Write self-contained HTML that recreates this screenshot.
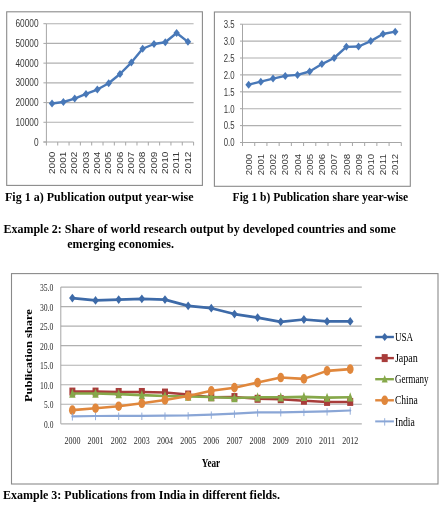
<!DOCTYPE html>
<html><head><meta charset="utf-8"><style>
html,body{margin:0;padding:0;background:#fff;width:448px;height:507px;overflow:hidden}
svg{position:absolute;left:0;top:0;filter:blur(0.3px)}
.t{position:absolute;font-family:"Liberation Serif",serif;font-weight:bold;font-size:12px;color:#000;white-space:pre;line-height:14px}
</style></head><body>
<svg width="448" height="507" viewBox="0 0 448 507">
<rect x="6.7" y="11.8" width="195.7" height="173.6" fill="none" stroke="#8a8a8a" stroke-width="1.1"/>
<line x1="43.4" y1="142" x2="46.4" y2="142" stroke="#a6a6a6" stroke-width="1"/>
<text x="38.6" y="145.5" font-family="Liberation Sans" font-size="10" font-weight="normal" fill="#383838" text-anchor="end" textLength="4.62" lengthAdjust="spacingAndGlyphs">0</text>
<line x1="46.4" y1="122.28" x2="193.6" y2="122.28" stroke="#b0b0b0" stroke-width="1.15"/>
<line x1="43.4" y1="122.28" x2="46.4" y2="122.28" stroke="#a6a6a6" stroke-width="1"/>
<text x="38.6" y="125.78" font-family="Liberation Sans" font-size="10" font-weight="normal" fill="#383838" text-anchor="end" textLength="23.1" lengthAdjust="spacingAndGlyphs">10000</text>
<line x1="46.4" y1="102.57" x2="193.6" y2="102.57" stroke="#b0b0b0" stroke-width="1.15"/>
<line x1="43.4" y1="102.57" x2="46.4" y2="102.57" stroke="#a6a6a6" stroke-width="1"/>
<text x="38.6" y="106.07" font-family="Liberation Sans" font-size="10" font-weight="normal" fill="#383838" text-anchor="end" textLength="23.1" lengthAdjust="spacingAndGlyphs">20000</text>
<line x1="46.4" y1="82.85" x2="193.6" y2="82.85" stroke="#b0b0b0" stroke-width="1.15"/>
<line x1="43.4" y1="82.85" x2="46.4" y2="82.85" stroke="#a6a6a6" stroke-width="1"/>
<text x="38.6" y="86.35" font-family="Liberation Sans" font-size="10" font-weight="normal" fill="#383838" text-anchor="end" textLength="23.1" lengthAdjust="spacingAndGlyphs">30000</text>
<line x1="46.4" y1="63.13" x2="193.6" y2="63.13" stroke="#b0b0b0" stroke-width="1.15"/>
<line x1="43.4" y1="63.13" x2="46.4" y2="63.13" stroke="#a6a6a6" stroke-width="1"/>
<text x="38.6" y="66.63" font-family="Liberation Sans" font-size="10" font-weight="normal" fill="#383838" text-anchor="end" textLength="23.1" lengthAdjust="spacingAndGlyphs">40000</text>
<line x1="46.4" y1="43.42" x2="193.6" y2="43.42" stroke="#b0b0b0" stroke-width="1.15"/>
<line x1="43.4" y1="43.42" x2="46.4" y2="43.42" stroke="#a6a6a6" stroke-width="1"/>
<text x="38.6" y="46.92" font-family="Liberation Sans" font-size="10" font-weight="normal" fill="#383838" text-anchor="end" textLength="23.1" lengthAdjust="spacingAndGlyphs">50000</text>
<line x1="46.4" y1="23.7" x2="193.6" y2="23.7" stroke="#b0b0b0" stroke-width="1.15"/>
<line x1="43.4" y1="23.7" x2="46.4" y2="23.7" stroke="#a6a6a6" stroke-width="1"/>
<text x="38.6" y="27.2" font-family="Liberation Sans" font-size="10" font-weight="normal" fill="#383838" text-anchor="end" textLength="23.1" lengthAdjust="spacingAndGlyphs">60000</text>
<line x1="46.4" y1="23.7" x2="46.4" y2="142" stroke="#a6a6a6" stroke-width="1"/>
<line x1="43.4" y1="142" x2="193.6" y2="142" stroke="#a6a6a6" stroke-width="1"/>
<line x1="46.4" y1="142" x2="46.4" y2="145.5" stroke="#a6a6a6" stroke-width="1"/>
<line x1="57.72" y1="142" x2="57.72" y2="145.5" stroke="#a6a6a6" stroke-width="1"/>
<line x1="69.05" y1="142" x2="69.05" y2="145.5" stroke="#a6a6a6" stroke-width="1"/>
<line x1="80.37" y1="142" x2="80.37" y2="145.5" stroke="#a6a6a6" stroke-width="1"/>
<line x1="91.69" y1="142" x2="91.69" y2="145.5" stroke="#a6a6a6" stroke-width="1"/>
<line x1="103.02" y1="142" x2="103.02" y2="145.5" stroke="#a6a6a6" stroke-width="1"/>
<line x1="114.34" y1="142" x2="114.34" y2="145.5" stroke="#a6a6a6" stroke-width="1"/>
<line x1="125.66" y1="142" x2="125.66" y2="145.5" stroke="#a6a6a6" stroke-width="1"/>
<line x1="136.98" y1="142" x2="136.98" y2="145.5" stroke="#a6a6a6" stroke-width="1"/>
<line x1="148.31" y1="142" x2="148.31" y2="145.5" stroke="#a6a6a6" stroke-width="1"/>
<line x1="159.63" y1="142" x2="159.63" y2="145.5" stroke="#a6a6a6" stroke-width="1"/>
<line x1="170.95" y1="142" x2="170.95" y2="145.5" stroke="#a6a6a6" stroke-width="1"/>
<line x1="182.28" y1="142" x2="182.28" y2="145.5" stroke="#a6a6a6" stroke-width="1"/>
<line x1="193.6" y1="142" x2="193.6" y2="145.5" stroke="#a6a6a6" stroke-width="1"/>
<text x="0" y="0" font-family="Liberation Sans" font-size="10" font-weight="normal" fill="#383838" text-anchor="start" textLength="22.3" lengthAdjust="spacingAndGlyphs" transform="translate(54.76 174) rotate(-90) scale(1 0.88)">2000</text>
<text x="0" y="0" font-family="Liberation Sans" font-size="10" font-weight="normal" fill="#383838" text-anchor="start" textLength="22.3" lengthAdjust="spacingAndGlyphs" transform="translate(66.08 174) rotate(-90) scale(1 0.88)">2001</text>
<text x="0" y="0" font-family="Liberation Sans" font-size="10" font-weight="normal" fill="#383838" text-anchor="start" textLength="22.3" lengthAdjust="spacingAndGlyphs" transform="translate(77.41 174) rotate(-90) scale(1 0.88)">2002</text>
<text x="0" y="0" font-family="Liberation Sans" font-size="10" font-weight="normal" fill="#383838" text-anchor="start" textLength="22.3" lengthAdjust="spacingAndGlyphs" transform="translate(88.73 174) rotate(-90) scale(1 0.88)">2003</text>
<text x="0" y="0" font-family="Liberation Sans" font-size="10" font-weight="normal" fill="#383838" text-anchor="start" textLength="22.3" lengthAdjust="spacingAndGlyphs" transform="translate(100.05 174) rotate(-90) scale(1 0.88)">2004</text>
<text x="0" y="0" font-family="Liberation Sans" font-size="10" font-weight="normal" fill="#383838" text-anchor="start" textLength="22.3" lengthAdjust="spacingAndGlyphs" transform="translate(111.38 174) rotate(-90) scale(1 0.88)">2005</text>
<text x="0" y="0" font-family="Liberation Sans" font-size="10" font-weight="normal" fill="#383838" text-anchor="start" textLength="22.3" lengthAdjust="spacingAndGlyphs" transform="translate(122.7 174) rotate(-90) scale(1 0.88)">2006</text>
<text x="0" y="0" font-family="Liberation Sans" font-size="10" font-weight="normal" fill="#383838" text-anchor="start" textLength="22.3" lengthAdjust="spacingAndGlyphs" transform="translate(134.02 174) rotate(-90) scale(1 0.88)">2007</text>
<text x="0" y="0" font-family="Liberation Sans" font-size="10" font-weight="normal" fill="#383838" text-anchor="start" textLength="22.3" lengthAdjust="spacingAndGlyphs" transform="translate(145.35 174) rotate(-90) scale(1 0.88)">2008</text>
<text x="0" y="0" font-family="Liberation Sans" font-size="10" font-weight="normal" fill="#383838" text-anchor="start" textLength="22.3" lengthAdjust="spacingAndGlyphs" transform="translate(156.67 174) rotate(-90) scale(1 0.88)">2009</text>
<text x="0" y="0" font-family="Liberation Sans" font-size="10" font-weight="normal" fill="#383838" text-anchor="start" textLength="22.3" lengthAdjust="spacingAndGlyphs" transform="translate(167.99 174) rotate(-90) scale(1 0.88)">2010</text>
<text x="0" y="0" font-family="Liberation Sans" font-size="10" font-weight="normal" fill="#383838" text-anchor="start" textLength="22.3" lengthAdjust="spacingAndGlyphs" transform="translate(179.32 174) rotate(-90) scale(1 0.88)">2011</text>
<text x="0" y="0" font-family="Liberation Sans" font-size="10" font-weight="normal" fill="#383838" text-anchor="start" textLength="22.3" lengthAdjust="spacingAndGlyphs" transform="translate(190.64 174) rotate(-90) scale(1 0.88)">2012</text>
<polyline points="52.06,103.55 63.38,101.98 74.71,98.62 86.03,93.89 97.35,89.55 108.68,83.24 120,73.98 131.32,62.54 142.65,48.74 153.97,44.01 165.29,42.23 176.62,32.97 187.94,41.84" fill="none" stroke="#4878b8" stroke-width="2.4" stroke-linejoin="round" stroke-linecap="round"/>
<path d="M52.06 99.55L55.31 103.55L52.06 107.55L48.81 103.55Z" fill="#4878b8"/>
<path d="M63.38 97.98L66.63 101.98L63.38 105.98L60.13 101.98Z" fill="#4878b8"/>
<path d="M74.71 94.62L77.96 98.62L74.71 102.62L71.46 98.62Z" fill="#4878b8"/>
<path d="M86.03 89.89L89.28 93.89L86.03 97.89L82.78 93.89Z" fill="#4878b8"/>
<path d="M97.35 85.55L100.6 89.55L97.35 93.55L94.1 89.55Z" fill="#4878b8"/>
<path d="M108.68 79.24L111.93 83.24L108.68 87.24L105.43 83.24Z" fill="#4878b8"/>
<path d="M120 69.98L123.25 73.98L120 77.98L116.75 73.98Z" fill="#4878b8"/>
<path d="M131.32 58.54L134.57 62.54L131.32 66.54L128.07 62.54Z" fill="#4878b8"/>
<path d="M142.65 44.74L145.9 48.74L142.65 52.74L139.4 48.74Z" fill="#4878b8"/>
<path d="M153.97 40.01L157.22 44.01L153.97 48.01L150.72 44.01Z" fill="#4878b8"/>
<path d="M165.29 38.23L168.54 42.23L165.29 46.23L162.04 42.23Z" fill="#4878b8"/>
<path d="M176.62 28.97L179.87 32.97L176.62 36.97L173.37 32.97Z" fill="#4878b8"/>
<path d="M187.94 37.84L191.19 41.84L187.94 45.84L184.69 41.84Z" fill="#4878b8"/>
<rect x="214.4" y="12" width="195.9" height="174.3" fill="none" stroke="#8a8a8a" stroke-width="1.1"/>
<line x1="240" y1="142.5" x2="242.5" y2="142.5" stroke="#a6a6a6" stroke-width="1"/>
<text x="234.5" y="146.3" font-family="Liberation Sans" font-size="10" font-weight="normal" fill="#383838" text-anchor="end" textLength="10.8" lengthAdjust="spacingAndGlyphs">0.0</text>
<line x1="242.5" y1="125.6" x2="401.3" y2="125.6" stroke="#b0b0b0" stroke-width="1.15"/>
<line x1="240" y1="125.6" x2="242.5" y2="125.6" stroke="#a6a6a6" stroke-width="1"/>
<text x="234.5" y="129.4" font-family="Liberation Sans" font-size="10" font-weight="normal" fill="#383838" text-anchor="end" textLength="10.8" lengthAdjust="spacingAndGlyphs">0.5</text>
<line x1="242.5" y1="108.7" x2="401.3" y2="108.7" stroke="#b0b0b0" stroke-width="1.15"/>
<line x1="240" y1="108.7" x2="242.5" y2="108.7" stroke="#a6a6a6" stroke-width="1"/>
<text x="234.5" y="112.5" font-family="Liberation Sans" font-size="10" font-weight="normal" fill="#383838" text-anchor="end" textLength="10.8" lengthAdjust="spacingAndGlyphs">1.0</text>
<line x1="242.5" y1="91.8" x2="401.3" y2="91.8" stroke="#b0b0b0" stroke-width="1.15"/>
<line x1="240" y1="91.8" x2="242.5" y2="91.8" stroke="#a6a6a6" stroke-width="1"/>
<text x="234.5" y="95.6" font-family="Liberation Sans" font-size="10" font-weight="normal" fill="#383838" text-anchor="end" textLength="10.8" lengthAdjust="spacingAndGlyphs">1.5</text>
<line x1="242.5" y1="74.9" x2="401.3" y2="74.9" stroke="#b0b0b0" stroke-width="1.15"/>
<line x1="240" y1="74.9" x2="242.5" y2="74.9" stroke="#a6a6a6" stroke-width="1"/>
<text x="234.5" y="78.7" font-family="Liberation Sans" font-size="10" font-weight="normal" fill="#383838" text-anchor="end" textLength="10.8" lengthAdjust="spacingAndGlyphs">2.0</text>
<line x1="242.5" y1="58" x2="401.3" y2="58" stroke="#b0b0b0" stroke-width="1.15"/>
<line x1="240" y1="58" x2="242.5" y2="58" stroke="#a6a6a6" stroke-width="1"/>
<text x="234.5" y="61.8" font-family="Liberation Sans" font-size="10" font-weight="normal" fill="#383838" text-anchor="end" textLength="10.8" lengthAdjust="spacingAndGlyphs">2.5</text>
<line x1="242.5" y1="41.1" x2="401.3" y2="41.1" stroke="#b0b0b0" stroke-width="1.15"/>
<line x1="240" y1="41.1" x2="242.5" y2="41.1" stroke="#a6a6a6" stroke-width="1"/>
<text x="234.5" y="44.9" font-family="Liberation Sans" font-size="10" font-weight="normal" fill="#383838" text-anchor="end" textLength="10.8" lengthAdjust="spacingAndGlyphs">3.0</text>
<line x1="242.5" y1="24.2" x2="401.3" y2="24.2" stroke="#b0b0b0" stroke-width="1.15"/>
<line x1="240" y1="24.2" x2="242.5" y2="24.2" stroke="#a6a6a6" stroke-width="1"/>
<text x="234.5" y="28" font-family="Liberation Sans" font-size="10" font-weight="normal" fill="#383838" text-anchor="end" textLength="10.8" lengthAdjust="spacingAndGlyphs">3.5</text>
<line x1="242.5" y1="24.2" x2="242.5" y2="142.5" stroke="#a6a6a6" stroke-width="1"/>
<line x1="240" y1="142.5" x2="401.3" y2="142.5" stroke="#a6a6a6" stroke-width="1"/>
<line x1="242.5" y1="142.5" x2="242.5" y2="146" stroke="#a6a6a6" stroke-width="1"/>
<line x1="254.72" y1="142.5" x2="254.72" y2="146" stroke="#a6a6a6" stroke-width="1"/>
<line x1="266.93" y1="142.5" x2="266.93" y2="146" stroke="#a6a6a6" stroke-width="1"/>
<line x1="279.15" y1="142.5" x2="279.15" y2="146" stroke="#a6a6a6" stroke-width="1"/>
<line x1="291.36" y1="142.5" x2="291.36" y2="146" stroke="#a6a6a6" stroke-width="1"/>
<line x1="303.58" y1="142.5" x2="303.58" y2="146" stroke="#a6a6a6" stroke-width="1"/>
<line x1="315.79" y1="142.5" x2="315.79" y2="146" stroke="#a6a6a6" stroke-width="1"/>
<line x1="328.01" y1="142.5" x2="328.01" y2="146" stroke="#a6a6a6" stroke-width="1"/>
<line x1="340.22" y1="142.5" x2="340.22" y2="146" stroke="#a6a6a6" stroke-width="1"/>
<line x1="352.44" y1="142.5" x2="352.44" y2="146" stroke="#a6a6a6" stroke-width="1"/>
<line x1="364.65" y1="142.5" x2="364.65" y2="146" stroke="#a6a6a6" stroke-width="1"/>
<line x1="376.87" y1="142.5" x2="376.87" y2="146" stroke="#a6a6a6" stroke-width="1"/>
<line x1="389.08" y1="142.5" x2="389.08" y2="146" stroke="#a6a6a6" stroke-width="1"/>
<line x1="401.3" y1="142.5" x2="401.3" y2="146" stroke="#a6a6a6" stroke-width="1"/>
<text x="0" y="0" font-family="Liberation Sans" font-size="9.6" font-weight="normal" fill="#383838" text-anchor="start" textLength="21.3" lengthAdjust="spacingAndGlyphs" transform="translate(251.81 175.2) rotate(-90) scale(1 0.9)">2000</text>
<text x="0" y="0" font-family="Liberation Sans" font-size="9.6" font-weight="normal" fill="#383838" text-anchor="start" textLength="21.3" lengthAdjust="spacingAndGlyphs" transform="translate(264.02 175.2) rotate(-90) scale(1 0.9)">2001</text>
<text x="0" y="0" font-family="Liberation Sans" font-size="9.6" font-weight="normal" fill="#383838" text-anchor="start" textLength="21.3" lengthAdjust="spacingAndGlyphs" transform="translate(276.24 175.2) rotate(-90) scale(1 0.9)">2002</text>
<text x="0" y="0" font-family="Liberation Sans" font-size="9.6" font-weight="normal" fill="#383838" text-anchor="start" textLength="21.3" lengthAdjust="spacingAndGlyphs" transform="translate(288.45 175.2) rotate(-90) scale(1 0.9)">2003</text>
<text x="0" y="0" font-family="Liberation Sans" font-size="9.6" font-weight="normal" fill="#383838" text-anchor="start" textLength="21.3" lengthAdjust="spacingAndGlyphs" transform="translate(300.67 175.2) rotate(-90) scale(1 0.9)">2004</text>
<text x="0" y="0" font-family="Liberation Sans" font-size="9.6" font-weight="normal" fill="#383838" text-anchor="start" textLength="21.3" lengthAdjust="spacingAndGlyphs" transform="translate(312.88 175.2) rotate(-90) scale(1 0.9)">2005</text>
<text x="0" y="0" font-family="Liberation Sans" font-size="9.6" font-weight="normal" fill="#383838" text-anchor="start" textLength="21.3" lengthAdjust="spacingAndGlyphs" transform="translate(325.1 175.2) rotate(-90) scale(1 0.9)">2006</text>
<text x="0" y="0" font-family="Liberation Sans" font-size="9.6" font-weight="normal" fill="#383838" text-anchor="start" textLength="21.3" lengthAdjust="spacingAndGlyphs" transform="translate(337.32 175.2) rotate(-90) scale(1 0.9)">2007</text>
<text x="0" y="0" font-family="Liberation Sans" font-size="9.6" font-weight="normal" fill="#383838" text-anchor="start" textLength="21.3" lengthAdjust="spacingAndGlyphs" transform="translate(349.53 175.2) rotate(-90) scale(1 0.9)">2008</text>
<text x="0" y="0" font-family="Liberation Sans" font-size="9.6" font-weight="normal" fill="#383838" text-anchor="start" textLength="21.3" lengthAdjust="spacingAndGlyphs" transform="translate(361.75 175.2) rotate(-90) scale(1 0.9)">2009</text>
<text x="0" y="0" font-family="Liberation Sans" font-size="9.6" font-weight="normal" fill="#383838" text-anchor="start" textLength="21.3" lengthAdjust="spacingAndGlyphs" transform="translate(373.96 175.2) rotate(-90) scale(1 0.9)">2010</text>
<text x="0" y="0" font-family="Liberation Sans" font-size="9.6" font-weight="normal" fill="#383838" text-anchor="start" textLength="21.3" lengthAdjust="spacingAndGlyphs" transform="translate(386.18 175.2) rotate(-90) scale(1 0.9)">2011</text>
<text x="0" y="0" font-family="Liberation Sans" font-size="9.6" font-weight="normal" fill="#383838" text-anchor="start" textLength="21.3" lengthAdjust="spacingAndGlyphs" transform="translate(398.39 175.2) rotate(-90) scale(1 0.9)">2012</text>
<polyline points="248.61,84.7 260.82,81.66 273.04,78.62 285.25,75.91 297.47,74.9 309.68,71.52 321.9,64.08 334.12,58 346.33,46.85 358.55,46.51 370.76,41.1 382.98,34 395.19,31.64" fill="none" stroke="#4878b8" stroke-width="2.4" stroke-linejoin="round" stroke-linecap="round"/>
<path d="M248.61 80.7L251.86 84.7L248.61 88.7L245.36 84.7Z" fill="#4878b8"/>
<path d="M260.82 77.66L264.07 81.66L260.82 85.66L257.57 81.66Z" fill="#4878b8"/>
<path d="M273.04 74.62L276.29 78.62L273.04 82.62L269.79 78.62Z" fill="#4878b8"/>
<path d="M285.25 71.91L288.5 75.91L285.25 79.91L282 75.91Z" fill="#4878b8"/>
<path d="M297.47 70.9L300.72 74.9L297.47 78.9L294.22 74.9Z" fill="#4878b8"/>
<path d="M309.68 67.52L312.93 71.52L309.68 75.52L306.43 71.52Z" fill="#4878b8"/>
<path d="M321.9 60.08L325.15 64.08L321.9 68.08L318.65 64.08Z" fill="#4878b8"/>
<path d="M334.12 54L337.37 58L334.12 62L330.87 58Z" fill="#4878b8"/>
<path d="M346.33 42.85L349.58 46.85L346.33 50.85L343.08 46.85Z" fill="#4878b8"/>
<path d="M358.55 42.51L361.8 46.51L358.55 50.51L355.3 46.51Z" fill="#4878b8"/>
<path d="M370.76 37.1L374.01 41.1L370.76 45.1L367.51 41.1Z" fill="#4878b8"/>
<path d="M382.98 30L386.23 34L382.98 38L379.73 34Z" fill="#4878b8"/>
<path d="M395.19 27.64L398.44 31.64L395.19 35.64L391.94 31.64Z" fill="#4878b8"/>
<rect x="11.5" y="273.6" width="426.5" height="210.4" fill="none" stroke="#8a8a8a" stroke-width="1.1"/>
<line x1="60.8" y1="423.8" x2="361.8" y2="423.8" stroke="#b0b0b0" stroke-width="1.15"/>
<text x="53.4" y="428" font-family="Liberation Serif" font-size="9.8" font-weight="normal" fill="#2a2a2a" text-anchor="end" textLength="9.3" lengthAdjust="spacingAndGlyphs">0.0</text>
<line x1="60.8" y1="404.27" x2="361.8" y2="404.27" stroke="#b0b0b0" stroke-width="1.15"/>
<text x="53.4" y="408.47" font-family="Liberation Serif" font-size="9.8" font-weight="normal" fill="#2a2a2a" text-anchor="end" textLength="9.3" lengthAdjust="spacingAndGlyphs">5.0</text>
<line x1="60.8" y1="384.74" x2="361.8" y2="384.74" stroke="#b0b0b0" stroke-width="1.15"/>
<text x="53.4" y="388.94" font-family="Liberation Serif" font-size="9.8" font-weight="normal" fill="#2a2a2a" text-anchor="end" textLength="13.5" lengthAdjust="spacingAndGlyphs">10.0</text>
<line x1="60.8" y1="365.21" x2="361.8" y2="365.21" stroke="#b0b0b0" stroke-width="1.15"/>
<text x="53.4" y="369.41" font-family="Liberation Serif" font-size="9.8" font-weight="normal" fill="#2a2a2a" text-anchor="end" textLength="13.5" lengthAdjust="spacingAndGlyphs">15.0</text>
<line x1="60.8" y1="345.69" x2="361.8" y2="345.69" stroke="#b0b0b0" stroke-width="1.15"/>
<text x="53.4" y="349.89" font-family="Liberation Serif" font-size="9.8" font-weight="normal" fill="#2a2a2a" text-anchor="end" textLength="13.5" lengthAdjust="spacingAndGlyphs">20.0</text>
<line x1="60.8" y1="326.16" x2="361.8" y2="326.16" stroke="#b0b0b0" stroke-width="1.15"/>
<text x="53.4" y="330.36" font-family="Liberation Serif" font-size="9.8" font-weight="normal" fill="#2a2a2a" text-anchor="end" textLength="13.5" lengthAdjust="spacingAndGlyphs">25.0</text>
<line x1="60.8" y1="306.63" x2="361.8" y2="306.63" stroke="#b0b0b0" stroke-width="1.15"/>
<text x="53.4" y="310.83" font-family="Liberation Serif" font-size="9.8" font-weight="normal" fill="#2a2a2a" text-anchor="end" textLength="13.5" lengthAdjust="spacingAndGlyphs">30.0</text>
<line x1="60.8" y1="287.1" x2="361.8" y2="287.1" stroke="#b0b0b0" stroke-width="1.15"/>
<text x="53.4" y="291.3" font-family="Liberation Serif" font-size="9.8" font-weight="normal" fill="#2a2a2a" text-anchor="end" textLength="13.5" lengthAdjust="spacingAndGlyphs">35.0</text>
<line x1="60.8" y1="287.1" x2="60.8" y2="423.8" stroke="#a6a6a6" stroke-width="1"/>
<text x="72.38" y="443.6" font-family="Liberation Serif" font-size="9.5" font-weight="normal" fill="#2a2a2a" text-anchor="middle" textLength="16" lengthAdjust="spacingAndGlyphs">2000</text>
<text x="95.53" y="443.6" font-family="Liberation Serif" font-size="9.5" font-weight="normal" fill="#2a2a2a" text-anchor="middle" textLength="16" lengthAdjust="spacingAndGlyphs">2001</text>
<text x="118.68" y="443.6" font-family="Liberation Serif" font-size="9.5" font-weight="normal" fill="#2a2a2a" text-anchor="middle" textLength="16" lengthAdjust="spacingAndGlyphs">2002</text>
<text x="141.84" y="443.6" font-family="Liberation Serif" font-size="9.5" font-weight="normal" fill="#2a2a2a" text-anchor="middle" textLength="16" lengthAdjust="spacingAndGlyphs">2003</text>
<text x="164.99" y="443.6" font-family="Liberation Serif" font-size="9.5" font-weight="normal" fill="#2a2a2a" text-anchor="middle" textLength="16" lengthAdjust="spacingAndGlyphs">2004</text>
<text x="188.15" y="443.6" font-family="Liberation Serif" font-size="9.5" font-weight="normal" fill="#2a2a2a" text-anchor="middle" textLength="16" lengthAdjust="spacingAndGlyphs">2005</text>
<text x="211.3" y="443.6" font-family="Liberation Serif" font-size="9.5" font-weight="normal" fill="#2a2a2a" text-anchor="middle" textLength="16" lengthAdjust="spacingAndGlyphs">2006</text>
<text x="234.45" y="443.6" font-family="Liberation Serif" font-size="9.5" font-weight="normal" fill="#2a2a2a" text-anchor="middle" textLength="16" lengthAdjust="spacingAndGlyphs">2007</text>
<text x="257.61" y="443.6" font-family="Liberation Serif" font-size="9.5" font-weight="normal" fill="#2a2a2a" text-anchor="middle" textLength="16" lengthAdjust="spacingAndGlyphs">2008</text>
<text x="280.76" y="443.6" font-family="Liberation Serif" font-size="9.5" font-weight="normal" fill="#2a2a2a" text-anchor="middle" textLength="16" lengthAdjust="spacingAndGlyphs">2009</text>
<text x="303.92" y="443.6" font-family="Liberation Serif" font-size="9.5" font-weight="normal" fill="#2a2a2a" text-anchor="middle" textLength="16" lengthAdjust="spacingAndGlyphs">2010</text>
<text x="327.07" y="443.6" font-family="Liberation Serif" font-size="9.5" font-weight="normal" fill="#2a2a2a" text-anchor="middle" textLength="16" lengthAdjust="spacingAndGlyphs">2011</text>
<text x="350.22" y="443.6" font-family="Liberation Serif" font-size="9.5" font-weight="normal" fill="#2a2a2a" text-anchor="middle" textLength="16" lengthAdjust="spacingAndGlyphs">2012</text>
<text x="211" y="466.8" font-family="Liberation Serif" font-size="12" font-weight="bold" fill="#000" text-anchor="middle" textLength="18.4" lengthAdjust="spacingAndGlyphs">Year</text>
<text x="0" y="0" font-family="Liberation Serif" font-size="12.5" font-weight="bold" fill="#000" text-anchor="middle" textLength="93" lengthAdjust="spacingAndGlyphs" transform="translate(32.3 355.6) rotate(-90) scale(1 0.76)">Publication share</text>
<polyline points="72.38,298.04 95.53,300.38 118.68,299.6 141.84,298.82 164.99,299.6 188.15,305.85 211.3,308.19 234.45,314.05 257.61,317.56 280.76,321.86 303.92,319.52 327.07,321.47 350.22,321.47" fill="none" stroke="#3d6aa8" stroke-width="2.7" stroke-linejoin="round" stroke-linecap="round"/>
<path d="M72.38 293.64L75.68 298.04L72.38 302.44L69.08 298.04Z" fill="#3d6aa8"/>
<path d="M95.53 295.98L98.83 300.38L95.53 304.78L92.23 300.38Z" fill="#3d6aa8"/>
<path d="M118.68 295.2L121.98 299.6L118.68 304L115.38 299.6Z" fill="#3d6aa8"/>
<path d="M141.84 294.42L145.14 298.82L141.84 303.22L138.54 298.82Z" fill="#3d6aa8"/>
<path d="M164.99 295.2L168.29 299.6L164.99 304L161.69 299.6Z" fill="#3d6aa8"/>
<path d="M188.15 301.45L191.45 305.85L188.15 310.25L184.85 305.85Z" fill="#3d6aa8"/>
<path d="M211.3 303.79L214.6 308.19L211.3 312.59L208 308.19Z" fill="#3d6aa8"/>
<path d="M234.45 309.65L237.75 314.05L234.45 318.45L231.15 314.05Z" fill="#3d6aa8"/>
<path d="M257.61 313.16L260.91 317.56L257.61 321.96L254.31 317.56Z" fill="#3d6aa8"/>
<path d="M280.76 317.46L284.06 321.86L280.76 326.26L277.46 321.86Z" fill="#3d6aa8"/>
<path d="M303.92 315.12L307.22 319.52L303.92 323.92L300.62 319.52Z" fill="#3d6aa8"/>
<path d="M327.07 317.07L330.37 321.47L327.07 325.87L323.77 321.47Z" fill="#3d6aa8"/>
<path d="M350.22 317.07L353.52 321.47L350.22 325.87L346.92 321.47Z" fill="#3d6aa8"/>
<polyline points="72.38,391.58 95.53,391.58 118.68,391.97 141.84,391.97 164.99,392.55 188.15,394.51 211.3,397.24 234.45,397.05 257.61,398.8 280.76,399.19 303.92,400.76 327.07,401.93 350.22,401.93" fill="none" stroke="#a83c3a" stroke-width="2.6" stroke-linejoin="round" stroke-linecap="round"/>
<rect x="69.38" y="387.58" width="6" height="8" fill="#a83c3a"/>
<rect x="92.53" y="387.58" width="6" height="8" fill="#a83c3a"/>
<rect x="115.68" y="387.97" width="6" height="8" fill="#a83c3a"/>
<rect x="138.84" y="387.97" width="6" height="8" fill="#a83c3a"/>
<rect x="161.99" y="388.55" width="6" height="8" fill="#a83c3a"/>
<rect x="185.15" y="390.51" width="6" height="8" fill="#a83c3a"/>
<rect x="208.3" y="393.24" width="6" height="8" fill="#a83c3a"/>
<rect x="231.45" y="393.05" width="6" height="8" fill="#a83c3a"/>
<rect x="254.61" y="394.8" width="6" height="8" fill="#a83c3a"/>
<rect x="277.76" y="395.19" width="6" height="8" fill="#a83c3a"/>
<rect x="300.92" y="396.76" width="6" height="8" fill="#a83c3a"/>
<rect x="324.07" y="397.93" width="6" height="8" fill="#a83c3a"/>
<rect x="347.22" y="397.93" width="6" height="8" fill="#a83c3a"/>
<polyline points="72.38,393.53 95.53,393.53 118.68,394.12 141.84,395.09 164.99,396.07 188.15,396.46 211.3,397.05 234.45,398.02 257.61,397.24 280.76,397.24 303.92,396.85 327.07,397.63 350.22,397.24" fill="none" stroke="#86a84a" stroke-width="2.6" stroke-linejoin="round" stroke-linecap="round"/>
<path d="M72.38 388.53L75.58 397.73L69.18 397.73Z" fill="#86a84a"/>
<path d="M95.53 388.53L98.73 397.73L92.33 397.73Z" fill="#86a84a"/>
<path d="M118.68 389.12L121.88 398.32L115.48 398.32Z" fill="#86a84a"/>
<path d="M141.84 390.09L145.04 399.29L138.64 399.29Z" fill="#86a84a"/>
<path d="M164.99 391.07L168.19 400.27L161.79 400.27Z" fill="#86a84a"/>
<path d="M188.15 391.46L191.35 400.66L184.95 400.66Z" fill="#86a84a"/>
<path d="M211.3 392.05L214.5 401.25L208.1 401.25Z" fill="#86a84a"/>
<path d="M234.45 393.02L237.65 402.22L231.25 402.22Z" fill="#86a84a"/>
<path d="M257.61 392.24L260.81 401.44L254.41 401.44Z" fill="#86a84a"/>
<path d="M280.76 392.24L283.96 401.44L277.56 401.44Z" fill="#86a84a"/>
<path d="M303.92 391.85L307.12 401.05L300.72 401.05Z" fill="#86a84a"/>
<path d="M327.07 392.63L330.27 401.83L323.87 401.83Z" fill="#86a84a"/>
<path d="M350.22 392.24L353.42 401.44L347.02 401.44Z" fill="#86a84a"/>
<polyline points="72.38,410.13 95.53,408.18 118.68,406.22 141.84,403.3 164.99,399.98 188.15,396.07 211.3,390.8 234.45,387.67 257.61,382.59 280.76,377.52 303.92,378.88 327.07,370.88 350.22,369.12" fill="none" stroke="#e0873c" stroke-width="2.6" stroke-linejoin="round" stroke-linecap="round"/>
<ellipse cx="72.38" cy="410.13" rx="3.4" ry="4.8" fill="#e0873c"/>
<ellipse cx="95.53" cy="408.18" rx="3.4" ry="4.8" fill="#e0873c"/>
<ellipse cx="118.68" cy="406.22" rx="3.4" ry="4.8" fill="#e0873c"/>
<ellipse cx="141.84" cy="403.3" rx="3.4" ry="4.8" fill="#e0873c"/>
<ellipse cx="164.99" cy="399.98" rx="3.4" ry="4.8" fill="#e0873c"/>
<ellipse cx="188.15" cy="396.07" rx="3.4" ry="4.8" fill="#e0873c"/>
<ellipse cx="211.3" cy="390.8" rx="3.4" ry="4.8" fill="#e0873c"/>
<ellipse cx="234.45" cy="387.67" rx="3.4" ry="4.8" fill="#e0873c"/>
<ellipse cx="257.61" cy="382.59" rx="3.4" ry="4.8" fill="#e0873c"/>
<ellipse cx="280.76" cy="377.52" rx="3.4" ry="4.8" fill="#e0873c"/>
<ellipse cx="303.92" cy="378.88" rx="3.4" ry="4.8" fill="#e0873c"/>
<ellipse cx="327.07" cy="370.88" rx="3.4" ry="4.8" fill="#e0873c"/>
<ellipse cx="350.22" cy="369.12" rx="3.4" ry="4.8" fill="#e0873c"/>
<polyline points="72.38,416.38 95.53,415.99 118.68,415.79 141.84,415.79 164.99,415.6 188.15,415.4 211.3,414.62 234.45,413.65 257.61,412.47 280.76,412.28 303.92,411.89 327.07,411.3 350.22,410.52" fill="none" stroke="#8aa6d6" stroke-width="2.2" stroke-linejoin="round" stroke-linecap="round"/>
<line x1="72.38" y1="413.18" x2="72.38" y2="420.58" stroke="#8aa6d6" stroke-width="0.9"/>
<line x1="95.53" y1="412.79" x2="95.53" y2="420.19" stroke="#8aa6d6" stroke-width="0.9"/>
<line x1="118.68" y1="412.59" x2="118.68" y2="419.99" stroke="#8aa6d6" stroke-width="0.9"/>
<line x1="141.84" y1="412.59" x2="141.84" y2="419.99" stroke="#8aa6d6" stroke-width="0.9"/>
<line x1="164.99" y1="412.4" x2="164.99" y2="419.8" stroke="#8aa6d6" stroke-width="0.9"/>
<line x1="188.15" y1="412.2" x2="188.15" y2="419.6" stroke="#8aa6d6" stroke-width="0.9"/>
<line x1="211.3" y1="411.42" x2="211.3" y2="418.82" stroke="#8aa6d6" stroke-width="0.9"/>
<line x1="234.45" y1="410.45" x2="234.45" y2="417.85" stroke="#8aa6d6" stroke-width="0.9"/>
<line x1="257.61" y1="409.27" x2="257.61" y2="416.67" stroke="#8aa6d6" stroke-width="0.9"/>
<line x1="280.76" y1="409.08" x2="280.76" y2="416.48" stroke="#8aa6d6" stroke-width="0.9"/>
<line x1="303.92" y1="408.69" x2="303.92" y2="416.09" stroke="#8aa6d6" stroke-width="0.9"/>
<line x1="327.07" y1="408.1" x2="327.07" y2="415.5" stroke="#8aa6d6" stroke-width="0.9"/>
<line x1="350.22" y1="407.32" x2="350.22" y2="414.72" stroke="#8aa6d6" stroke-width="0.9"/>
<line x1="375.2" y1="337" x2="393.9" y2="337" stroke="#3d6aa8" stroke-width="2.4"/>
<path d="M384.7 333.1L387.9 337L384.7 340.9L381.5 337Z" fill="#3d6aa8"/>
<text x="394.9" y="341.1" font-family="Liberation Serif" font-size="11.5" font-weight="normal" fill="#000" text-anchor="start" textLength="18.2" lengthAdjust="spacingAndGlyphs">USA</text>
<line x1="375.2" y1="358.1" x2="393.9" y2="358.1" stroke="#a83c3a" stroke-width="2.4"/>
<rect x="381.7" y="354.1" width="6" height="8" fill="#a83c3a"/>
<text x="394.9" y="362.2" font-family="Liberation Serif" font-size="11.5" font-weight="normal" fill="#000" text-anchor="start" textLength="23" lengthAdjust="spacingAndGlyphs">Japan</text>
<line x1="375.2" y1="379.2" x2="393.9" y2="379.2" stroke="#86a84a" stroke-width="2.4"/>
<path d="M384.7 375L387.7 382.6L381.7 382.6Z" fill="#86a84a"/>
<text x="394.9" y="383.3" font-family="Liberation Serif" font-size="11.5" font-weight="normal" fill="#000" text-anchor="start" textLength="33.5" lengthAdjust="spacingAndGlyphs">Germany</text>
<line x1="375.2" y1="400.3" x2="393.9" y2="400.3" stroke="#e0873c" stroke-width="2.4"/>
<ellipse cx="384.7" cy="400.3" rx="3.4" ry="4.8" fill="#e0873c"/>
<text x="394.9" y="404.4" font-family="Liberation Serif" font-size="11.5" font-weight="normal" fill="#000" text-anchor="start" textLength="23" lengthAdjust="spacingAndGlyphs">China</text>
<line x1="375.2" y1="421.4" x2="393.9" y2="421.4" stroke="#8aa6d6" stroke-width="2"/>
<line x1="384.7" y1="418.2" x2="384.7" y2="425.6" stroke="#8aa6d6" stroke-width="0.9"/>
<text x="394.9" y="425.5" font-family="Liberation Serif" font-size="11.5" font-weight="normal" fill="#000" text-anchor="start" textLength="20" lengthAdjust="spacingAndGlyphs">India</text>
<text x="5" y="201.1" font-family="Liberation Serif" font-size="12.8" font-weight="bold" fill="#000" text-anchor="start" textLength="188.55" lengthAdjust="spacingAndGlyphs">Fig 1 a) Publication output year-wise</text>
<text x="232.6" y="200.7" font-family="Liberation Serif" font-size="12.4" font-weight="bold" fill="#000" text-anchor="start" textLength="175.6" lengthAdjust="spacingAndGlyphs">Fig 1 b) Publication share year-wise</text>
<text x="3.4" y="232.7" font-family="Liberation Serif" font-size="12.8" font-weight="bold" fill="#000" text-anchor="start" textLength="392.35" lengthAdjust="spacingAndGlyphs">Example 2: Share of world research output by developed countries and some</text>
<text x="67.3" y="248.3" font-family="Liberation Serif" font-size="12.8" font-weight="bold" fill="#000" text-anchor="start" textLength="106.6" lengthAdjust="spacingAndGlyphs">emerging economies.</text>
<text x="3" y="498.9" font-family="Liberation Serif" font-size="12.8" font-weight="bold" fill="#000" text-anchor="start" textLength="276.9" lengthAdjust="spacingAndGlyphs">Example 3: Publications from India in different fields.</text>
</svg>
</body></html>
